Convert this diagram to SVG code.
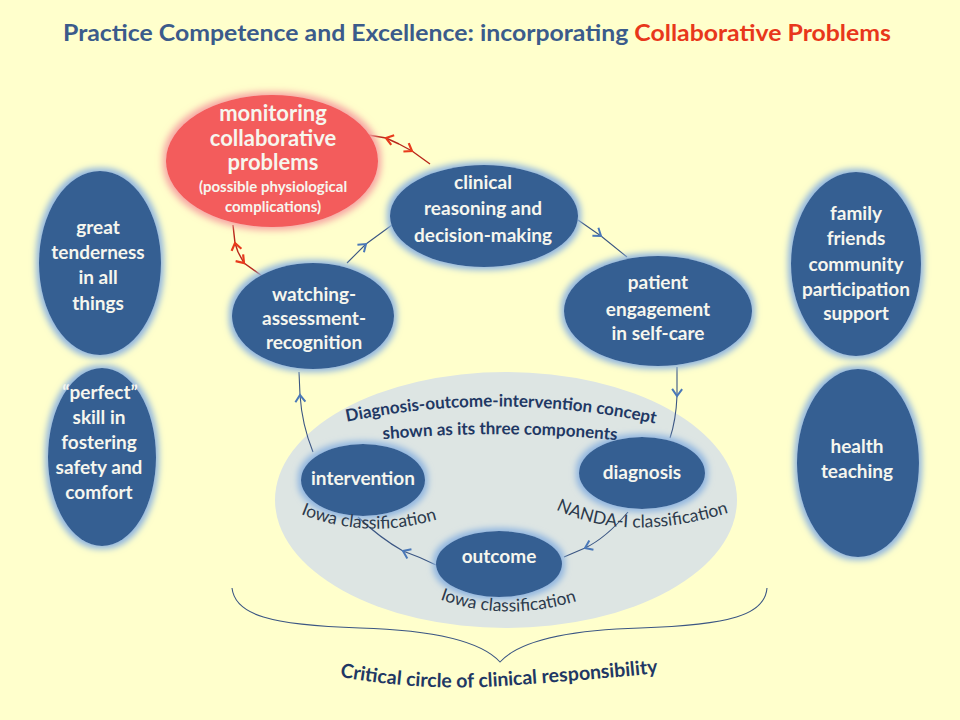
<svg xmlns="http://www.w3.org/2000/svg" width="960" height="720" viewBox="0 0 960 720">
<defs>
<style>
.node{fill:#365f92;filter:url(#glowB)}
.red{fill:#f35b5b;filter:url(#glowR)}
.lbl{font-family:Lato,"Open Sans","Liberation Sans",sans-serif;font-weight:bold;fill:#f6f6ee;text-anchor:middle;font-size:19px}
.big{font-size:22px}
.sub{font-size:15px}
.cls{font-family:Lato,"Open Sans","Liberation Sans",sans-serif;fill:#2c3a4c;font-size:17.5px}
.hdr{font-family:Lato,"Open Sans","Liberation Sans",sans-serif;fill:#1f3864;font-weight:bold;font-size:17px}
.foot{font-size:19.5px}
.ln{fill:none;stroke:#3b5683;stroke-width:1.1}
.rl{fill:none;stroke:#b8261a;stroke-width:1.4}
</style>
<filter id="glowB" x="-20%" y="-20%" width="140%" height="140%">
<feMorphology in="SourceAlpha" operator="dilate" radius="3" result="d"/>
<feGaussianBlur in="d" stdDeviation="3" result="b"/>
<feFlood flood-color="#8fb5e0"/>
<feComposite in2="b" operator="in" result="g"/>
<feMerge><feMergeNode in="g"/><feMergeNode in="SourceGraphic"/></feMerge>
</filter>
<filter id="glowR" x="-20%" y="-20%" width="140%" height="140%">
<feMorphology in="SourceAlpha" operator="dilate" radius="3" result="d"/>
<feGaussianBlur in="d" stdDeviation="3.5" result="b"/>
<feFlood flood-color="#f6a3a3"/>
<feComposite in2="b" operator="in" result="g"/>
<feMerge><feMergeNode in="g"/><feMergeNode in="SourceGraphic"/></feMerge>
</filter>
<marker id="chev" viewBox="-9 -7 11 14" refX="0" refY="0" markerWidth="11" markerHeight="14" markerUnits="userSpaceOnUse" orient="auto">
<path d="M-7,-5 L0,0 L-7,5" fill="none" stroke="#4a78b8" stroke-width="2"/>
</marker>
<marker id="rchev" viewBox="-9 -7 11 14" refX="0" refY="0" markerWidth="11" markerHeight="14" markerUnits="userSpaceOnUse" orient="auto">
<path d="M-7,-5 L0,0 L-7,5" fill="none" stroke="#e83a1c" stroke-width="2.2"/>
</marker>
<marker id="rchevB" viewBox="-2 -7 11 14" refX="0" refY="0" markerWidth="11" markerHeight="14" markerUnits="userSpaceOnUse" orient="auto">
<path d="M7,-5 L0,0 L7,5" fill="none" stroke="#e83a1c" stroke-width="2.2"/>
</marker>
</defs>
<rect width="960" height="720" fill="#ffffcc"/>

<text x="477" y="41" font-family="Lato,'Open Sans','Liberation Sans',sans-serif" font-weight="bold" font-size="22" text-anchor="middle" textLength="828" lengthAdjust="spacingAndGlyphs"><tspan fill="#3b5b8b">Practice Competence and Excellence: incorporating </tspan><tspan fill="#e8371b">Collaborative Problems</tspan></text>

<g id="concept-area">
<ellipse cx="506" cy="500" rx="231" ry="128" fill="#dde5e3"/>
</g>

<g id="connectors">
<path class="rl" d="M368,135 L386,138 L399,144"  marker-mid="url(#rchevB)"/>
<path class="rl" d="M399,144 L412,151 L430,164" marker-mid="url(#rchev)"/>
<path class="rl" d="M233,225 L235,243 L238,252" marker-mid="url(#rchevB)"/>
<path class="rl" d="M238,252 L244,263 L262,276" marker-mid="url(#rchev)"/>
<path class="ln" d="M347,263 L366,244 L392,225" marker-mid="url(#chev)"/>
<path class="ln" d="M578,220 L601,236 L627,257" marker-mid="url(#chev)"/>
<path class="ln" d="M677,367 L677,396 Q676,420 670,438" marker-mid="url(#chev)"/>
<path class="ln" d="M313,452 Q302,425 300,395 L299,372" marker-mid="url(#chev)"/>
<path class="ln" d="M628,512 Q606,538 585,548 L564,557" marker-mid="url(#chev)"/>
<path class="ln" d="M436,565 Q420,557 403,551 Q380,538 358,517" marker-mid="url(#chev)"/>
<path class="ln" d="M232,588 C235,615 270,625 360,628 C430,630 480,640 500,662 C520,640 570,630 640,628 C730,625 765,615 767,588" stroke="#4a6fa5" stroke-width="1.6"/>
</g>

<g id="monitoring">
<ellipse class="red" cx="272" cy="161" rx="106" ry="66"/>
<text class="lbl big"><tspan x="273" y="121">monitoring</tspan><tspan x="273" y="146">collaborative</tspan><tspan x="273" y="170">problems</tspan></text>
<text class="lbl sub"><tspan x="273" y="192">(possible physiological</tspan><tspan x="273" y="212">complications)</tspan></text>
</g>

<g id="clinical">
<ellipse class="node" cx="484" cy="216" rx="94" ry="51"/>
<text class="lbl"><tspan x="483" y="189">clinical</tspan><tspan x="483" y="215">reasoning  and</tspan><tspan x="483" y="242">decision-making</tspan></text>
</g>

<g id="patient">
<ellipse class="node" cx="658" cy="311" rx="94" ry="55"/>
<text class="lbl"><tspan x="658" y="289">patient</tspan><tspan x="658" y="316">engagement</tspan><tspan x="658" y="340">in self-care</tspan></text>
</g>

<g id="watching">
<ellipse class="node" cx="313" cy="316" rx="81" ry="53"/>
<text class="lbl"><tspan x="314" y="301">watching-</tspan><tspan x="314" y="325">assessment-</tspan><tspan x="314" y="349">recognition</tspan></text>
</g>

<g id="tenderness">
<ellipse class="node" cx="100" cy="263" rx="61" ry="92"/>
<text class="lbl"><tspan x="98" y="234">great</tspan><tspan x="98" y="259">tenderness</tspan><tspan x="98" y="284">in all</tspan><tspan x="98" y="310">things</tspan></text>
</g>

<g id="skill">
<ellipse class="node" cx="102" cy="457" rx="54" ry="89"/>
<text class="lbl"><tspan x="100" y="399">“perfect”</tspan><tspan x="99" y="424">skill  in</tspan><tspan x="99" y="449">fostering</tspan><tspan x="99" y="474">safety and</tspan><tspan x="99" y="499">comfort</tspan></text>
</g>

<g id="family">
<ellipse class="node" cx="856" cy="264" rx="65" ry="92"/>
<text class="lbl"><tspan x="856" y="220">family</tspan><tspan x="856" y="245">friends</tspan><tspan x="856" y="271">community</tspan><tspan x="856" y="296">participation</tspan><tspan x="856" y="320">support</tspan></text>
</g>

<g id="health">
<ellipse class="node" cx="858" cy="463" rx="61" ry="94"/>
<text class="lbl"><tspan x="857" y="453">health</tspan><tspan x="857" y="478">teaching</tspan></text>
</g>

<g id="intervention">
<ellipse class="node" cx="363" cy="480" rx="62" ry="36"/>
<text class="lbl" x="363" y="485">intervention</text>
</g>

<g id="diagnosis">
<ellipse class="node" cx="642" cy="473" rx="63" ry="36"/>
<text class="lbl" x="642" y="479">diagnosis</text>
</g>

<g id="outcome">
<ellipse class="node" cx="499" cy="564" rx="63" ry="33"/>
<text class="lbl" x="499" y="563">outcome</text>
</g>

<g id="labels">
<path id="p1" d="M336,424 Q500,388 666,426" fill="none"/>
<path id="p2" d="M376,440 Q500,428 624,441" fill="none"/>
<path id="p3" d="M296,512 Q366,542 442,518" fill="none"/>
<path id="p4" d="M551,507 Q625,546 734,511" fill="none"/>
<path id="p5" d="M428,595 Q505,627 589,597" fill="none"/>
<path id="p6" d="M330,675 Q420,692 500,686 Q580,681 668,672" fill="none"/>
<text class="hdr"><textPath href="#p1" startOffset="50%" text-anchor="middle">Diagnosis-outcome-intervention concept</textPath></text>
<text class="hdr"><textPath href="#p2" startOffset="50%" text-anchor="middle">shown as its three components</textPath></text>
<text class="cls"><textPath href="#p3" startOffset="50%" text-anchor="middle">Iowa classification</textPath></text>
<text class="cls"><textPath href="#p4" startOffset="50%" text-anchor="middle">NANDA-I classification</textPath></text>
<text class="cls"><textPath href="#p5" startOffset="50%" text-anchor="middle">Iowa classification</textPath></text>
<text class="hdr foot"><textPath href="#p6" startOffset="50%" text-anchor="middle">Critical  circle of clinical  responsibility</textPath></text>
</g>
</svg>
